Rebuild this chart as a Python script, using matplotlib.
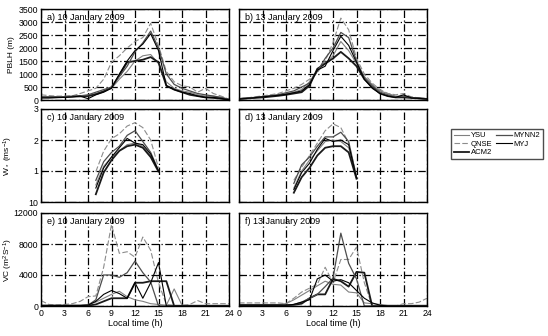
import numpy as np
import matplotlib
matplotlib.use("Agg")
import matplotlib.pyplot as plt

plt.rcParams['font.family'] = ['Liberation Sans', 'DejaVu Sans']
plt.rcParams['mathtext.default'] = 'regular'
plt.rcParams['font.size'] = 6.5

hours = np.arange(0, 25)
hours_w = np.arange(7, 16)
schemes = ['YSU', 'QNSE', 'ACM2', 'MYNN2', 'MYJ']

# PBLH (m), 10 January 2009
pblh_a = {
    'YSU':   [100, 100, 110, 120, 130, 150, 180, 250, 350, 450, 800, 1100, 1500, 1700, 1750, 1400, 700, 450, 350, 300, 200, 150, 150, 100, 20],
    'QNSE':  [200, 170, 150, 150, 160, 250, 350, 450, 800, 1450, 1700, 2000, 2250, 2400, 2950, 2100, 1100, 700, 550, 500, 300, 450, 250, 150, 30],
    'ACM2':  [100, 100, 110, 120, 130, 140, 150, 220, 330, 480, 950, 1450, 1500, 1550, 1650, 1450, 550, 400, 300, 200, 150, 100, 80, 50, 10],
    'MYNN2': [120, 120, 130, 130, 140, 160, 200, 300, 400, 500, 900, 1300, 1850, 2200, 2650, 2000, 1000, 600, 450, 350, 250, 200, 150, 100, 30],
    'MYJ':   [80, 80, 90, 100, 120, 150, 50, 200, 300, 450, 1000, 1500, 1900, 2150, 2550, 1900, 550, 400, 300, 250, 150, 100, 100, 60, 10],
}
# PBLH (m), 13 January 2009
pblh_b = {
    'YSU':   [50, 80, 100, 130, 160, 200, 250, 300, 400, 700, 1150, 1400, 1700, 2250, 1900, 1400, 900, 600, 350, 250, 150, 150, 100, 80, 50],
    'QNSE':  [50, 80, 120, 160, 200, 250, 350, 450, 600, 800, 1050, 1500, 2200, 3150, 2700, 1600, 1000, 650, 400, 250, 200, 250, 120, 80, 50],
    'ACM2':  [40, 60, 80, 100, 130, 160, 200, 250, 300, 550, 1200, 1400, 1600, 1850, 1600, 1300, 800, 500, 250, 150, 100, 100, 80, 60, 40],
    'MYNN2': [50, 70, 100, 130, 160, 200, 280, 350, 500, 650, 1100, 1600, 2000, 2600, 2400, 1500, 850, 550, 300, 200, 120, 150, 100, 70, 40],
    'MYJ':   [40, 60, 90, 120, 150, 180, 220, 280, 350, 600, 1150, 1300, 1900, 2450, 2100, 1450, 800, 450, 250, 150, 100, 200, 80, 60, 40],
}
# W* (m/s), 07-15 h
w_c = {
    'YSU':   [0.55, 1.15, 1.45, 1.65, 1.85, 1.90, 1.80, 1.50, 1.00],
    'QNSE':  [0.98, 1.64, 2.04, 2.20, 2.45, 2.56, 2.40, 2.00, 1.10],
    'ACM2':  [0.25, 0.95, 1.35, 1.65, 1.80, 1.85, 1.75, 1.45, 0.98],
    'MYNN2': [0.70, 1.30, 1.60, 1.80, 2.15, 2.30, 1.95, 1.60, 1.02],
    'MYJ':   [0.45, 1.10, 1.45, 1.75, 2.05, 1.90, 1.85, 1.55, 1.00],
}
w_d = {
    'YSU':   [0.45, 1.00, 1.35, 1.65, 1.95, 2.00, 1.95, 1.75, 0.80],
    'QNSE':  [0.70, 1.12, 1.50, 1.90, 2.30, 2.52, 2.40, 1.90, 0.85],
    'ACM2':  [0.30, 0.80, 1.10, 1.50, 1.75, 1.80, 1.80, 1.60, 0.75],
    'MYNN2': [0.60, 1.20, 1.45, 1.80, 2.10, 2.10, 2.25, 1.95, 0.80],
    'MYJ':   [0.40, 0.95, 1.25, 1.70, 2.05, 1.95, 2.00, 1.85, 0.78],
}
# VC (m2/s), 10 January 2009
vc_e = {
    'YSU':   [100, 100, 100, 100, 100, 100, 200, 500, 1000, 1500, 1900, 1200, 800, 600, 300, 200, 100, 2200, 100, 100, 100, 100, 100, 100, 100],
    'QNSE':  [700, 200, 150, 200, 300, 600, 1200, 1300, 5000, 10500, 6800, 7000, 6300, 8900, 7200, 3000, 200, 100, 100, 200, 700, 300, 300, 300, 300],
    'ACM2':  [50, 50, 50, 50, 50, 50, 50, 200, 600, 1000, 1000, 1000, 3000, 3000, 3200, 3200, 3200, 0, 0, 0, 0, 0, 0, 0, 0],
    'MYNN2': [50, 50, 50, 50, 50, 50, 100, 800, 4000, 4000, 3700, 4300, 5800, 4300, 3100, 0, 0, 0, 0, 0, 0, 0, 0, 0, 0],
    'MYJ':   [50, 50, 50, 50, 50, 50, 100, 600, 1500, 2000, 1600, 1000, 3000, 1000, 3000, 5600, 0, 0, 0, 0, 0, 0, 0, 0, 0],
}
# VC (m2/s), 13 January 2009
vc_f = {
    'YSU':   [200, 200, 200, 200, 200, 200, 300, 800, 1400, 2000, 2600, 3200, 2800, 2700, 1800, 1700, 400, 300, 200, 100, 100, 100, 100, 100, 100],
    'QNSE':  [400, 400, 400, 400, 400, 400, 300, 1000, 1800, 2300, 2800, 5000, 3000, 6000, 6000, 7600, 3000, 0, 0, 0, 0, 300, 300, 500, 1000],
    'ACM2':  [100, 100, 100, 100, 100, 100, 100, 150, 300, 1000, 1500, 1500, 3500, 3200, 2500, 4400, 4300, 0, 0, 0, 0, 0, 0, 0, 0],
    'MYNN2': [100, 100, 100, 100, 100, 100, 100, 200, 500, 1000, 1500, 2500, 3600, 9400, 5500, 3500, 0, 0, 0, 0, 0, 0, 0, 0, 0],
    'MYJ':   [100, 100, 100, 100, 100, 100, 100, 200, 500, 800, 3500, 4000, 3200, 3400, 3000, 2000, 1000, 400, 100, 0, 0, 0, 0, 0, 0],
}

styles = {
    'YSU':   dict(color='0.5', ls='-', lw=0.8),
    'QNSE':  dict(color='0.55', ls=(0, (5, 2)), lw=0.8),
    'ACM2':  dict(color='0.1', ls='-', lw=1.3),
    'MYNN2': dict(color='0.3', ls='-', lw=0.9),
    'MYJ':   dict(color='0.0', ls='-', lw=0.8),
}

fig = plt.figure(figsize=(5.48, 3.36), dpi=100)
xl = [41 / 548, 239 / 548]
w = 188 / 548
rows = [(1 - 100 / 336, 91 / 336), (1 - 202 / 336, 93 / 336), (1 - 306 / 336, 93 / 336)]

panels = [
    (0, 0, pblh_a, hours, 'a) 10 January 2009'),
    (0, 1, pblh_b, hours, 'b) 13 January 2009'),
    (1, 0, w_c, hours_w, 'c) 10 January 2009'),
    (1, 1, w_d, hours_w, 'd) 13 January 2009'),
    (2, 0, vc_e, hours, 'e) 10 January 2009'),
    (2, 1, vc_f, hours, 'f) 13 January 2009'),
]

grid_ls = (0, (6, 2, 1, 2))
for r, c, data, x, title in panels:
    b, h = rows[r]
    ax = fig.add_axes([xl[c], b, w, h])
    for s in schemes:
        ax.plot(x, data[s], label=s, **styles[s])
    ax.set_xlim(0, 24)
    ax.set_xticks(np.arange(0, 25, 3))
    if r == 0:
        ax.set_ylim(0, 3500)
        ax.set_yticks(np.arange(0, 3501, 500))
    elif r == 1:
        ax.set_ylim(0, 3)
        ax.set_yticks([0, 1, 2, 3])
        ax.set_yticklabels(['10', '1', '2', '3'])
    else:
        ax.set_ylim(0, 12000)
        ax.set_yticks([0, 4000, 8000, 12000])
    ax.grid(True, color='k', ls=grid_ls, lw=0.9)
    ax.tick_params(direction='in', length=2, labelsize=6.3, pad=2)
    for sp in ax.spines.values():
        sp.set_linewidth(1.0)
    if r < 2:
        ax.set_xticklabels([])
    else:
        ax.set_xlabel('Local time (h)', fontsize=6.5, labelpad=1)
    if c == 1:
        ax.set_yticklabels([])
    else:
        ylab = ['PBLH (m)', 'W$_*$ (ms$^{-1}$)', 'VC (m$^2$S$^{-1}$)'][r]
        ax.set_ylabel(ylab, fontsize=6)
        ax.yaxis.set_label_coords(-0.14, 0.5)
    ax.text(0.03, 0.96, title, transform=ax.transAxes, ha='left', va='top', fontsize=6.5)
    if r == 1 and c == 1:
        handles, labels = ax.get_legend_handles_labels()

fig.legend(handles, labels, ncol=2, loc='upper left',
           bbox_to_anchor=(451 / 548, 1 - 129 / 336), fontsize=5.5,
           frameon=True, fancybox=False, edgecolor='0.3', framealpha=1,
           handlelength=2.0, handletextpad=0.2, columnspacing=0.5,
           labelspacing=0.15, borderpad=0.4, borderaxespad=0)

fig.savefig('out.png', dpi=100)
